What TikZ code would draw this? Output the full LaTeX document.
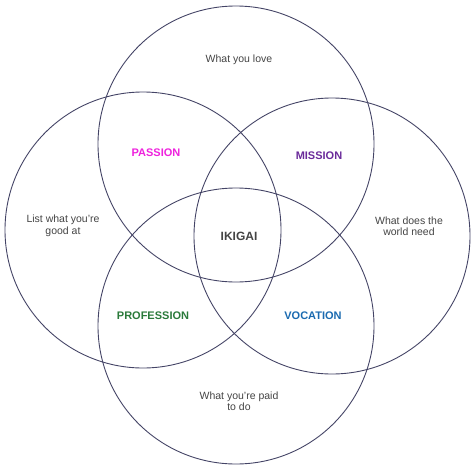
\documentclass[tikz,border=0pt]{standalone}
\usepackage{fontspec}
\setmainfont{Liberation Sans}
\definecolor{ring}{HTML}{444466}
\definecolor{txt}{HTML}{444444}
\definecolor{passion}{HTML}{EE22DD}
\definecolor{mission}{HTML}{6A2A9A}
\definecolor{profession}{HTML}{2A7A3A}
\definecolor{vocation}{HTML}{1A6AB0}
\newcommand{\apo}{\symbol{39}}
\begin{document}
\begin{tikzpicture}[x=1pt,y=-1pt,
  ring/.style={draw=ring,line width=0.9pt,circle,minimum size=276pt,inner sep=0pt},
  lbl/.style={text=txt,font=\fontsize{10.5}{11.5}\selectfont,align=center},
  caplabel/.style={font=\bfseries\fontsize{11}{12}\selectfont}]
\useasboundingbox (0,0) rectangle (474,471);
\node[ring] (love) at (236,144) {};
\node[ring] (good) at (143,230) {};
\node[ring] (need) at (332,236) {};
\node[ring] (paid) at (236,326) {};
\node[lbl] (tlove) at (239,60) {What you love};
\node[lbl] (tgood) at (63,226) {List what you\apo re\\good at};
\node[lbl] (tneed) at (409,226) {What does the\\world need};
\node[lbl] (tpaid) at (239,401) {What you\apo re paid\\to do};
\node[caplabel,text=passion] (passion) at (156,153) {PASSION};
\node[caplabel,text=mission] (mission) at (319,156) {MISSION};
\node[caplabel,text=profession] (profession) at (153,316) {PROFESSION};
\node[caplabel,text=vocation] (vocation) at (313,316) {VOCATION};
\node[text=txt,font=\bfseries\fontsize{12}{14}\selectfont] (ikigai) at (239,236) {IKIGAI};
\end{tikzpicture}
\end{document}
